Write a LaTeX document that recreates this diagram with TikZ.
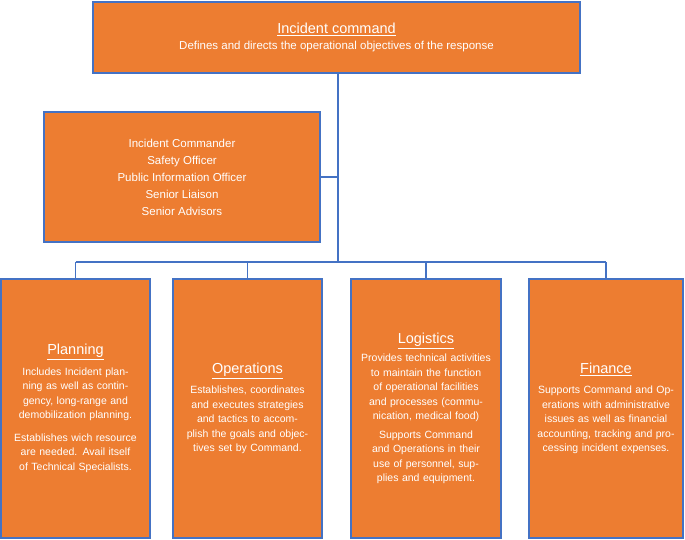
\documentclass[tikz,border=0pt]{standalone}
\usepackage{fontspec}
\setmainfont{Liberation Sans}
\definecolor{org}{HTML}{ED7D31}
\definecolor{bl}{HTML}{4472C4}
\begin{document}
\begin{tikzpicture}[x=1pt,y=-1pt,
 box/.style={draw=bl,line width=1.2pt,fill=org,text=white,align=center,inner sep=0pt},
 bot/.style={box,minimum height=259,text width=140,font=\fontsize{10.5}{14.5}\selectfont},
 ttl/.style={font=\fontsize{14.5}{18}\selectfont},
 ln/.style={draw=bl,line width=1.2pt}]
\useasboundingbox (0,0) rectangle (685,540);
\node[box,minimum width=487,minimum height=71,font=\fontsize{11.5}{16}\selectfont] (top) at (336.5,37.5)
 {{\fontsize{14.5}{18}\selectfont\underline{Incident command}}\\Defines and directs the operational objectives of the response};
\node[box,minimum width=276,minimum height=130,font=\fontsize{11.5}{17}\selectfont] (staff) at (182,177)
 {Incident Commander\\Safety Officer\\Public Information Officer\\Senior Liaison\\Senior Advisors};
\node[bot,minimum width=149] (plan) at (75.5,408.5)
 {{\fontsize{14.5}{18}\selectfont\underline{Planning}}\\[6pt]Includes Incident planning as well as contingency, long-range and demobilization planning.\\[8pt]Establishes wich resource are needed. Avail itself of Technical Specialists.};
\node[bot,minimum width=149] (ops) at (247.5,408.5)
 {{\fontsize{14.5}{18}\selectfont\underline{Operations}}\\[6pt]Establishes, coordinates and executes strategies and tactics to accomplish the goals and objectives set by Command.};
\node[bot,minimum width=150] (log) at (426,408.5)
 {{\fontsize{14.5}{18}\selectfont\underline{Logistics}}\\[4pt]Provides technical activities to maintain the function of operational facilities and processes (communication, medical food)\\[4pt]Supports Command and Operations in their use of personnel, supplies and equipment.};
\node[bot,minimum width=154] (fin) at (606,408.5)
 {{\fontsize{14.5}{18}\selectfont\underline{Finance}}\\[6pt]Supports Command and Operations with administrative issues as well as financial accounting, tracking and processing incident expenses.};
\coordinate (j) at (338,262);
\coordinate (jl) at (75.5,262);
\coordinate (jr) at (606,262);
\draw[ln] (338,73) -- (j);
\draw[ln] (jl) -- (jr);
\draw[ln] (jl) -- (plan.north);
\draw[ln] (247.5,262) -- (ops.north);
\draw[ln] (426,262) -- (log.north);
\draw[ln] (jr) -- (fin.north);
\draw[ln] (staff.east) -- (338,177);
\end{tikzpicture}
\end{document}
